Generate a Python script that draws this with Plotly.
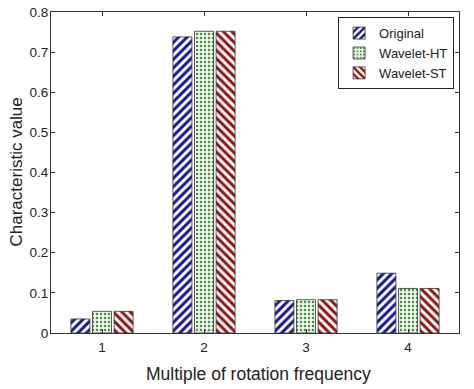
import plotly.graph_objects as go

categories = [1, 2, 3, 4]
original = [0.035, 0.738, 0.081, 0.149]
wavelet_ht = [0.054, 0.752, 0.083, 0.111]
wavelet_st = [0.054, 0.752, 0.083, 0.111]
series_names = ["Original", "Wavelet-HT", "Wavelet-ST"]
y_ticks = [0, 0.1, 0.2, 0.3, 0.4, 0.5, 0.6, 0.7, 0.8]
x_title = "Multiple of rotation frequency"
y_title = "Characteristic value"

font = "Liberation Sans, Arial, sans-serif"

fig = go.Figure()
styles = [
    dict(shape="/", fgcolor="#161690", bgcolor="white", size=6, solidity=0.5, fgopacity=1),
    dict(shape=".", fgcolor="#4c8c4c", bgcolor="#eef6e8", size=4, solidity=0.3, fgopacity=1),
    dict(shape="\\", fgcolor="#901616", bgcolor="white", size=6, solidity=0.5, fgopacity=1),
]
for name, vals, st in zip(series_names, [original, wavelet_ht, wavelet_st], styles):
    fig.add_trace(go.Bar(
        x=categories, y=vals, name=name,
        marker=dict(color="white", pattern=st,
                    line=dict(color="#333333", width=0.8)),
    ))

fig.update_layout(
    width=474, height=389,
    margin=dict(l=51, r=15, t=12, b=56, autoexpand=False),
    paper_bgcolor="white", plot_bgcolor="white",
    barmode="group", bargap=0.365, bargroupgap=0.12,
    font=dict(family=font, size=13, color="#222222"),
    showlegend=True,
    legend=dict(x=0.988, y=0.984, xanchor="right", yanchor="top",
                bgcolor="white", bordercolor="#222222", borderwidth=1,
                font=dict(size=13, family=font), tracegroupgap=0),
    xaxis=dict(
        range=[0.5, 4.5], tickvals=categories, ticktext=[str(c) for c in categories],
        ticks="inside", ticklen=4, tickcolor="#333333",
        showline=True, linecolor="#333333", linewidth=1, mirror="ticks",
        showgrid=False, zeroline=False, automargin=False,
        tickfont=dict(size=13.5), ticklabelstandoff=2, ticklabeloverflow="allow",
    ),
    yaxis=dict(
        range=[0, 0.8], tickvals=y_ticks, ticktext=[("0" if v == 0 else f"{v:.1f}") for v in y_ticks],
        ticks="inside", ticklen=4, tickcolor="#333333",
        showline=True, linecolor="#333333", linewidth=1, mirror="ticks",
        showgrid=False, zeroline=False, automargin=False,
        tickfont=dict(size=13.5), ticklabelstandoff=-1, ticklabeloverflow="allow",
    ),
    annotations=[
        dict(text=x_title, xref="paper", yref="paper", x=0.508, y=-41 / 321,
             xanchor="center", yanchor="middle", showarrow=False,
             font=dict(size=17.5, family=font, color="#222222")),
        dict(text=y_title, xref="paper", yref="paper", x=-35 / 408, y=0.5,
             xanchor="center", yanchor="middle", showarrow=False, textangle=-90,
             font=dict(size=17, family=font, color="#222222")),
    ],
)

# remove the browser's default 8px body margin so the figure fills the window
fig.write_html("out.html", config={"displayModeBar": False},
               post_script="document.body.style.margin='0';")
